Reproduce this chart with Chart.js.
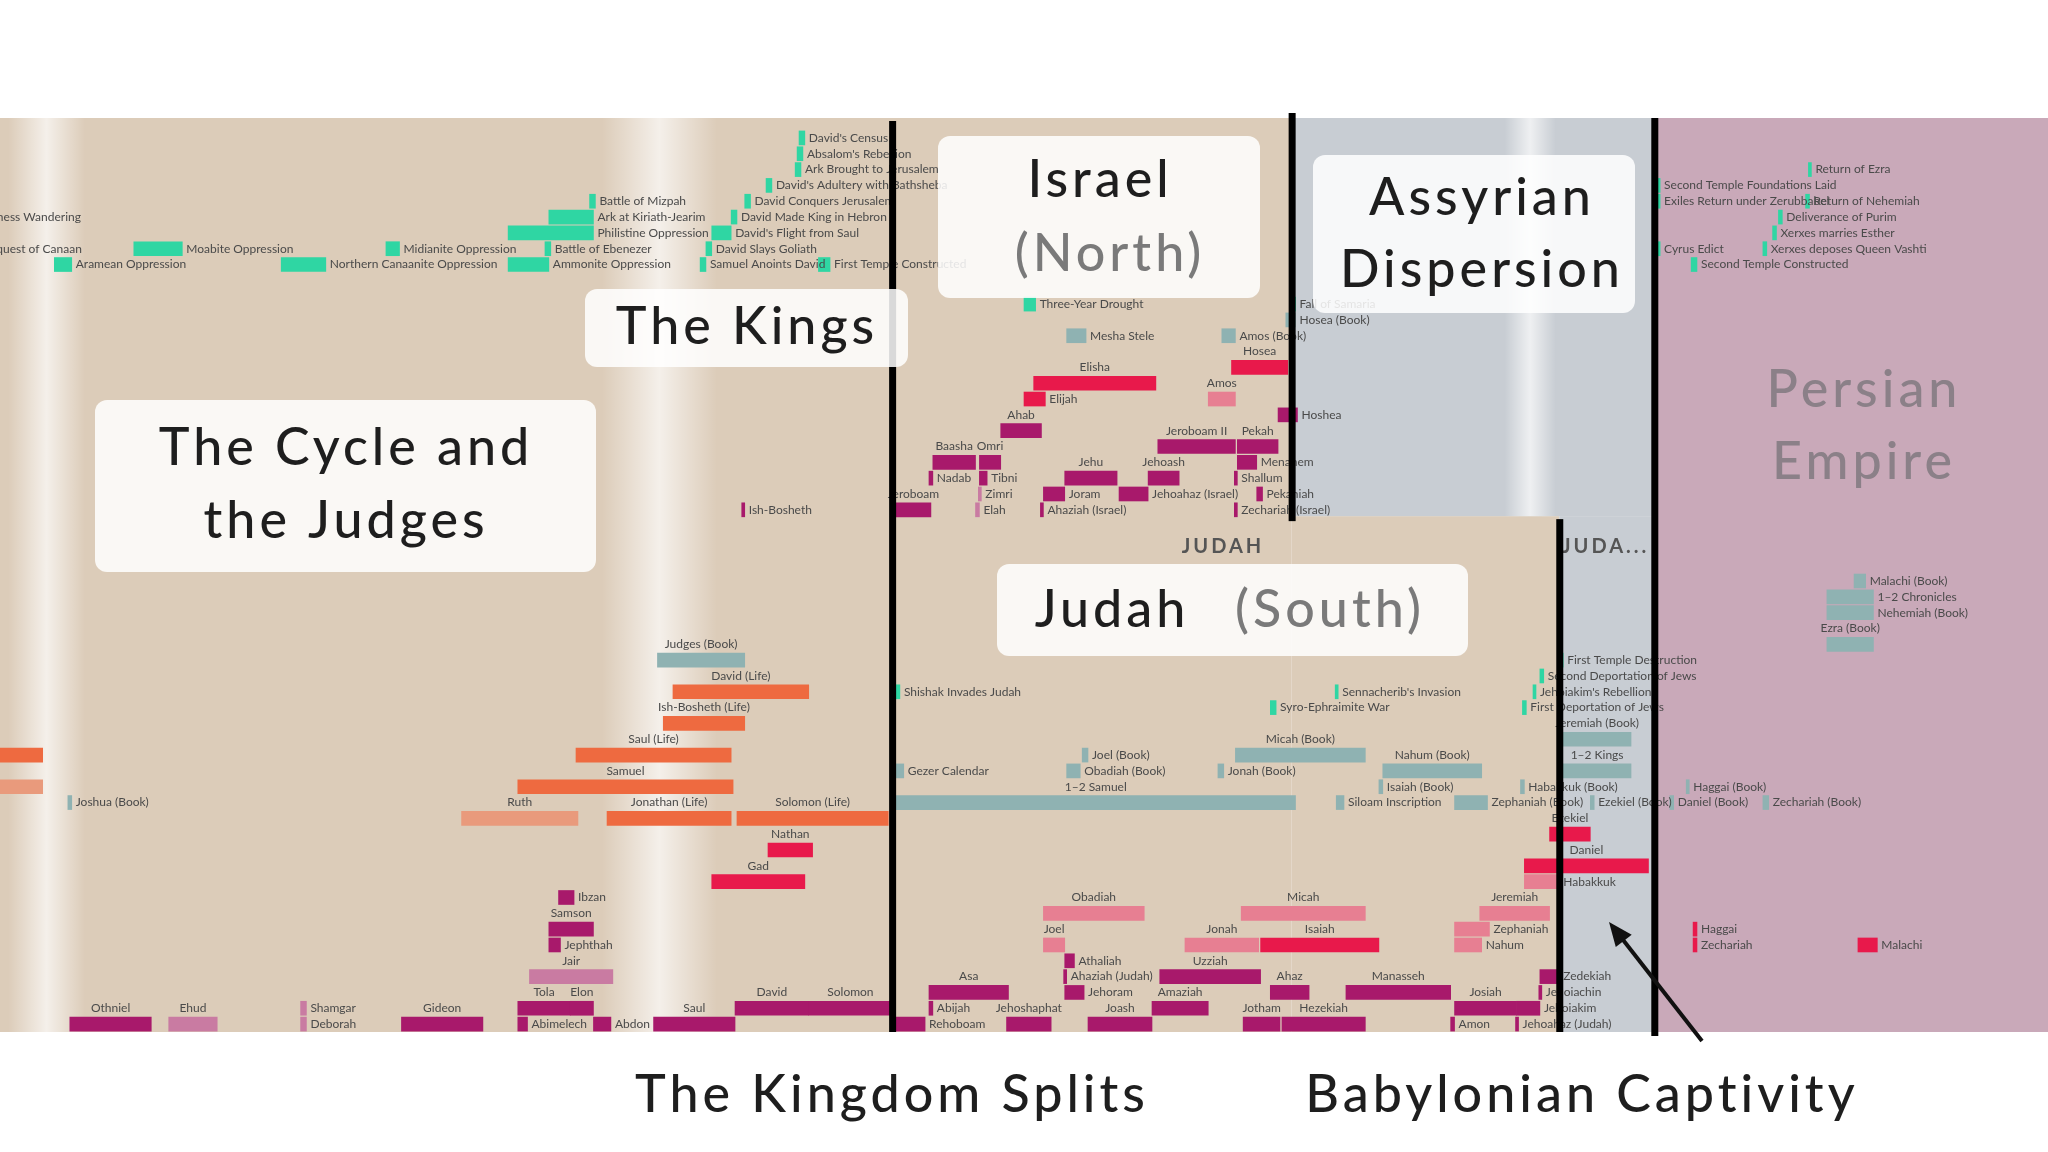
<!DOCTYPE html>
<html><head><meta charset="utf-8">
<script src="https://cdn.jsdelivr.net/npm/chart.js@4.4.0/dist/chart.umd.min.js"></script>
<style>html,body{margin:0;padding:0;background:#fff}</style>
</head><body>
<canvas id="c" width="2048" height="1152"></canvas>
<script>
// [name, startBC, endBC, row, labelMode]  r = right of bar, a = above bar, n = none
const events = [
 ["Wilderness Wandering",1431,1413,51,"r"],["Conquest of Canaan",1418,1406,49,"r"],
 ["Moabite Oppression",1322,1297,49,"r"],["Aramean Oppression",1363,1354,48,"r"],
 ["Midianite Oppression",1192,1185,49,"r"],["Northern Canaanite Oppression",1246,1223,48,"r"],
 ["Battle of Mizpah",1087,1084,52,"r"],["Ark at Kiriath-Jearim",1108,1085,51,"r"],
 ["Philistine Oppression",1129,1085,50,"r"],["Battle of Ebenezer",1110,1107,49,"r"],
 ["Ammonite Oppression",1129,1108,48,"r"],["David's Census",979,976,56,"r"],
 ["Absalom's Rebellion",980,977,55,"r"],["Ark Brought to Jerusalem",981,978,54,"r"],
 ["David's Adultery with Bathsheba",996,993,53,"r"],["David Conquers Jerusalem",1007,1004,52,"r"],
 ["David Made King in Hebron",1014,1011,51,"r"],["David's Flight from Saul",1024,1014,50,"r"],
 ["David Slays Goliath",1027,1024,49,"r"],["Samuel Anoints David",1030,1027,48,"r"],
 ["First Temple Constructed",969,963,48,"r"],["Three-Year Drought",863,857,45.5,"r"],
 ["Fall of Samaria",725,723,45.5,"r"],["Shishak Invades Judah",929,927,21,"r"],
 ["Syro-Ephraimite War",736,733,20,"r"],["Sennacherib's Invasion",702,701,21,"r"],
 ["First Temple Destruction",587,585,23,"r"],["Second Deportation of Jews",597,595,22,"r"],
 ["Jehoiakim's Rebellion",600,599,21,"r"],["First Deportation of Jews",606,604,20,"r"],
 ["Return of Ezra",458,457,54,"r"],["Second Temple Foundations Laid",537,535,53,"r"],
 ["Exiles Return under Zerubbabel",537,535,52,"r"],["Return of Nehemiah",460,458,52,"r"],
 ["Deliverance of Purim",474,472,51,"r"],["Xerxes marries Esther",477,475,50,"r"],
 ["Cyrus Edict",537,535,49,"r"],["Xerxes deposes Queen Vashti",482,480,49,"r"],
 ["Second Temple Constructed",519,516,48,"r"]
];
const books = [
 ["Judges (Book)",1052,1007,23,"a"],["Joshua (Book)",1356,1354,14,"r"],
 ["Mesha Stele",841,831,43.5,"r"],["Amos (Book)",761,754,43.5,"r"],["Hosea (Book)",728,723,44.5,"r"],
 ["Gezer Calendar",929,925,16,"r"],["1–2 Samuel",929,723,14,"a"],["Joel (Book)",833,830,17,"r"],
 ["Obadiah (Book)",841,834,16,"r"],["Jonah (Book)",763,760,16,"r"],["Micah (Book)",754,687,17,"a"],
 ["Isaiah (Book)",680,678,15,"r"],["Siloam Inscription",702,698,14,"r"],["Nahum (Book)",678,627,16,"a"],
 ["Zephaniah (Book)",641,624,14,"r"],["Habakkuk (Book)",607,605,15,"r"],["Ezekiel (Book)",571,569,14,"r"],
 ["Daniel (Book)",530,528,14,"r"],["Jeremiah (Book)",585,550,18,"a"],["1–2 Kings",585,550,16,"a"],
 ["Haggai (Book)",521,520,15,"r"],["Zechariah (Book)",482,479,14,"r"],["Malachi (Book)",435,429,28,"r"],
 ["1–2 Chronicles",449,425,27,"r"],["Nehemiah (Book)",449,425,26,"r"],["Ezra (Book)",449,425,24,"a"]
];
const lives = [
 ["David (Life)",1044,974,21,"a"],["Ish-Bosheth (Life)",1049,1007,19,"a"],["Saul (Life)",1094,1014,17,"a"],
 ["Samuel",1124,1013,15,"a"],["Jonathan (Life)",1078,1014,13,"a"],["Solomon (Life)",1011,933,13,"a"],
 ["Moses (Life)",1420,1369,17,"n"]
];
const livesLight = [["Ruth",1153,1093,13,"a"],["Joshua (Life)",1420,1369,15,"n"]];
const prophets = [
 ["Nathan",995,972,11,"a"],["Gad",1024,976,9,"a"],["Elijah",863,852,39.5,"r"],["Elisha",858,795,40.5,"a"],
 ["Hosea",756,727,41.5,"a"],["Isaiah",741,680,5,"a"],["Ezekiel",592,571,12,"a"],["Daniel",605,541,10,"a"],
 ["Haggai",518,516,6,"r"],["Zechariah",518,516,5,"r"],["Malachi",433,423,5,"r"]
];
const prophetsLight = [
 ["Amos",768,754,39.5,"a"],["Obadiah",853,801,7,"a"],["Micah",751,687,7,"a"],["Jonah",780,742,5,"a"],
 ["Joel",853,842,5,"a"],["Jeremiah",628,592,7,"a"],["Zephaniah",641,623,6,"r"],["Nahum",641,627,5,"r"],
 ["Habakkuk",605,587,9,"r"]
];
const kings = [
 ["Ibzan",1103,1095,8,"r"],["Samson",1108,1085,6,"a"],["Jephthah",1108,1102,5,"r"],
 ["Tola",1124,1097,1,"a"],["Elon",1097,1085,1,"a"],["Othniel",1355,1313,0,"a"],["Gideon",1184,1142,0,"a"],
 ["Abimelech",1124,1119,0,"r"],["Abdon",1085,1076,0,"r"],["Saul",1054,1012,0,"a"],["David",1012,974,1,"a"],
 ["Solomon",974,931,1,"a"],["Rehoboam",930,914,0,"r"],["Abijah",912,910,1,"r"],["Asa",912,871,2,"a"],
 ["Ish-Bosheth",1008,1007,32.5,"r"],
 ["Jeroboam",929,911,32.5,"a"],["Nadab",912,910,34.5,"r"],["Baasha",910,888,35.5,"a"],["Omri",886,875,35.5,"a"],
 ["Tibni",886,882,34.5,"r"],["Ahab",875,854,37.5,"a"],["Jehu",842,815,34.5,"a"],["Joram",853,842,33.5,"r"],
 ["Ahaziah (Israel)",854,853,32.5,"r"],["Jehoahaz (Israel)",814,799,33.5,"r"],["Jehoash",799,783,34.5,"a"],
 ["Jeroboam II",794,754,36.5,"a"],["Pekah",753,732,36.5,"a"],["Menahem",753,743,35.5,"r"],
 ["Shallum",754,753,34.5,"r"],["Pekahiah",743,740,33.5,"r"],["Zechariah (Israel)",754,753,32.5,"r"],
 ["Hoshea",732,722,38.5,"r"],
 ["Jehoshaphat",872,849,0,"a"],["Jehoram",842,832,2,"r"],["Ahaziah (Judah)",842,841,3,"r"],
 ["Athaliah",842,837,4,"r"],["Joash",830,797,0,"a"],["Amaziah",797,768,1,"a"],["Uzziah",793,741,3,"a"],
 ["Jotham",750,731,0,"a"],["Ahaz",736,716,2,"a"],["Hezekiah",730,687,0,"a"],["Manasseh",697,643,2,"a"],
 ["Amon",643,641,0,"r"],["Josiah",641,609,1,"a"],["Jehoahaz (Judah)",609,608,0,"r"],
 ["Jehoiakim",609,597,1,"r"],["Jehoiachin",597,596,2,"r"],["Zedekiah",597,587,3,"r"]
];
const kingsLight = [
 ["Ehud",1304,1279,0,"a"],["Shamgar",1236,1233,1,"r"],["Deborah",1236,1233,0,"r"],["Jair",1118,1075,3,"a"],
 ["Zimri",886,885,33.5,"r"],["Elah",888,886,32.5,"r"]
];
const groups = [
 [events,"#2fd6a3"],[books,"#8fb2b2"],[lives,"#ee6a40"],[livesLight,"#e99a7c"],
 [prophets,"#e8194b"],[prophetsLight,"#e77f92"],[kings,"#a8196b"],[kingsLight,"#c97ba2"]
];

const datasets = groups.map(([arr,col]) => ({
  data: arr.map(d => ({x:[-d[1], -d[2]], y:d[3], name:d[0], mode:d[4]})),
  backgroundColor: col, borderWidth:0, barThickness:14, minBarLength:3, grouped:false
}));

const px = (s, y) => s.getPixelForValue(-y);

const bgPlugin = {
  id:'bg',
  beforeDatasetsDraw(ch){
    const c=ch.ctx, xs=ch.scales.x, ys=ch.scales.y, a=ch.chartArea;
    const xS=px(xs,725), xB=px(xs,587), xP=px(xs,538), ySplit=ys.getPixelForValue(32.1);
    c.save();
    c.fillStyle='#dcccb9'; c.fillRect(a.left,a.top,xS-a.left,a.bottom-a.top);
    c.fillRect(xS,ySplit,xB-xS,a.bottom-ySplit);
    c.fillStyle='#c8cdd3'; c.fillRect(xS,a.top,xP-xS,ySplit-a.top);
    c.fillRect(xB,ySplit,xP-xB,a.bottom-ySplit);
    c.fillStyle='#c9a9b9'; c.fillRect(xP,a.top,a.right-xP,a.bottom-a.top);
    [[1367,24,0],[1051,36,0],[602,16,1]].forEach(([yr,w,top])=>{
      const cx=px(xs,yr);
      const g=c.createLinearGradient(cx-w*1.6,0,cx+w*1.6,0);
      g.addColorStop(0,'rgba(255,255,255,0)');g.addColorStop(0.5,'rgba(255,255,255,0.7)');g.addColorStop(1,'rgba(255,255,255,0)');
      c.fillStyle=g;
      c.fillRect(cx-w*1.6,a.top,w*3.2,(top?ySplit:a.bottom)-a.top);
    });
    c.fillStyle='#555'; c.font='bold 20px Lato'; c.textAlign='center'; c.textBaseline='middle';
    c.letterSpacing='3px';
    c.fillText('JUDAH',1223,547); c.textAlign='left'; c.fillText('JUDA...',1562,547);
    c.restore();
  },
  afterDatasetsDraw(ch){
    const c=ch.ctx; c.save();
    c.font='12px Lato'; c.fillStyle='#4a4a4a'; c.textBaseline='middle';
    const rowH=Math.abs(ch.scales.y.getPixelForValue(1)-ch.scales.y.getPixelForValue(0));
    ch.data.datasets.forEach((ds,i)=>{
      ch.getDatasetMeta(i).data.forEach((el,j)=>{
        const d=ds.data[j]; if(d.mode==='n')return;
        const l=Math.min(el.x,el.base), r=Math.max(el.x,el.base);
        if(d.mode==='r'){c.textAlign='left';c.fillText(d.name,r+4,el.y);}
        else {c.textAlign='center';c.fillText(d.name,(l+r)/2,el.y-rowH);}
      });
    });
    const xs=ch.scales.x, ys=ch.scales.y, a=ch.chartArea, ySplit=ys.getPixelForValue(32.1);
    c.fillStyle='#000';
    c.fillRect(px(xs,931)-3,a.top+3,7,a.bottom-a.top-3);
    c.fillRect(px(xs,725)-3,a.top-5,7,ySplit-a.top+10);
    c.fillRect(px(xs,587)-3,ySplit+3,7,a.bottom-ySplit-3);
    c.fillRect(px(xs,538)-3,a.top,7,a.bottom-a.top+4);
    c.restore();
  },
  afterDraw(ch){
    const c=ch.ctx; c.save();
    const box=(x,y,w,h)=>{c.fillStyle='rgba(255,255,255,0.85)';c.beginPath();c.roundRect(x,y,w,h,12);c.fill();};
    box(95,400,501,172); box(585,289,323,78); box(938,136,322,162); box(1313,155,322,158); box(997,564,471,92);
    c.textAlign='center'; c.textBaseline='middle'; c.letterSpacing='4px';
    c.font='500 52px Lato'; c.fillStyle='#1e1e1e';
    c.fillText('The Cycle and',346,448); c.fillText('the Judges',346,521);
    c.fillText('The Kings',747,327);
    c.fillText('Israel',1100,180); c.fillStyle='#7a7a7a'; c.fillText('(North)',1110,254);
    c.fillStyle='#1e1e1e'; c.fillText('Assyrian',1482,198); c.fillText('Dispersion',1482,270);
    c.fillText('Judah',1112,610); c.fillStyle='#7a7a7a'; c.fillText('(South)',1330,610);
    c.fillStyle='#8b8088'; c.fillText('Persian',1864,390); c.fillText('Empire',1864,462);
    c.fillStyle='#1e1e1e'; c.font='500 52px Lato';
    c.fillText('The Kingdom Splits',892,1095); c.fillText('Babylonian Captivity',1582,1095);
    c.strokeStyle='#111'; c.lineWidth=4; c.beginPath(); c.moveTo(1702,1041); c.lineTo(1620,936); c.stroke();
    c.fillStyle='#111'; c.beginPath();
    const ang=Math.atan2(922-1041,1609-1702), L=26;
    c.moveTo(1609,922);
    c.lineTo(1609-L*Math.cos(ang-0.4),922-L*Math.sin(ang-0.4));
    c.lineTo(1609-L*Math.cos(ang+0.4),922-L*Math.sin(ang+0.4));
    c.closePath(); c.fill();
    c.restore();
  }
};

new Chart(document.getElementById('c'),{
  type:'bar',
  data:{datasets},
  options:{
    indexAxis:'y', responsive:false, animation:false, devicePixelRatio:1,
    layout:{padding:{top:118,bottom:120,left:0,right:0}},
    plugins:{legend:{display:false},tooltip:{enabled:false}},
    scales:{
      x:{type:'linear',min:-1391,max:-335,display:false,offset:false},
      y:{type:'linear',min:-0.5,max:57.26,display:false,offset:false}
    }
  },
  plugins:[bgPlugin]
});
</script>
</body></html>
